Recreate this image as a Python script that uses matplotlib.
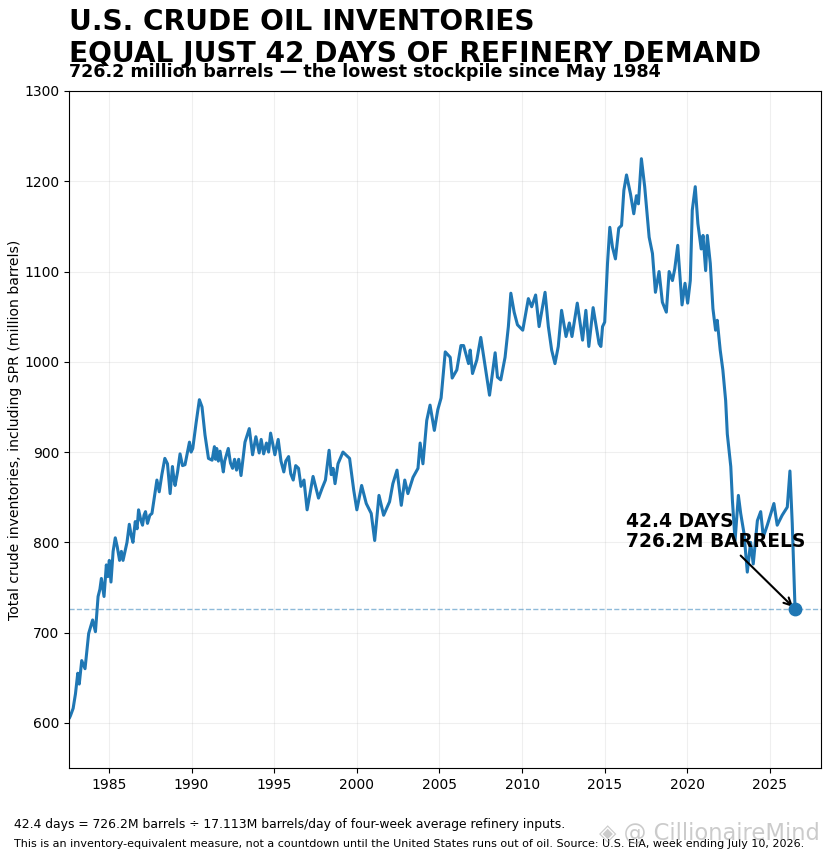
import matplotlib
matplotlib.use('Agg')
from matplotlib import pyplot as plt

# year / million barrels
years = [1982.62, 1982.67, 1982.83, 1982.97, 1983.11, 1983.2, 1983.35, 1983.55, 1983.77, 1983.91,
         1984.01, 1984.18, 1984.34, 1984.45, 1984.54, 1984.7, 1984.84, 1984.93, 1985.02, 1985.12,
         1985.25, 1985.38, 1985.5, 1985.64, 1985.75, 1985.85, 1986.09, 1986.23, 1986.34, 1986.45,
         1986.59, 1986.7, 1986.79, 1986.92, 1987.03, 1987.12, 1987.21, 1987.33, 1987.47, 1987.6,
         1987.9, 1988.04, 1988.2, 1988.38, 1988.54, 1988.7, 1988.84, 1988.93, 1989.0, 1989.15,
         1989.3, 1989.45, 1989.6, 1989.87, 1989.97, 1990.07, 1990.27, 1990.47, 1990.63, 1990.81,
         1991.02, 1991.24, 1991.38, 1991.45, 1991.52, 1991.62, 1991.72, 1991.92, 1992.0, 1992.22,
         1992.35, 1992.48, 1992.6, 1992.72, 1992.85, 1992.99, 1993.23, 1993.49, 1993.69, 1993.89,
         1994.09, 1994.21, 1994.36, 1994.53, 1994.66, 1994.78, 1995.04, 1995.24, 1995.41, 1995.58,
         1995.7, 1995.87, 1996.0, 1996.15, 1996.3, 1996.47, 1996.62, 1996.8, 1996.99, 1997.35,
         1997.68, 1997.9, 1998.1, 1998.32, 1998.45, 1998.56, 1998.68, 1998.86, 1999.16, 1999.56,
         1999.81, 2000.0, 2000.29, 2000.57, 2000.87, 2001.08, 2001.34, 2001.62, 2001.98, 2002.18,
         2002.43, 2002.69, 2002.9, 2003.09, 2003.4, 2003.7, 2003.83, 2004.0, 2004.23, 2004.43,
         2004.69, 2004.9, 2005.1, 2005.35, 2005.65, 2005.77, 2006.05, 2006.3, 2006.46, 2006.76,
         2006.86, 2007.0, 2007.26, 2007.5, 2007.77, 2008.03, 2008.37, 2008.51, 2008.71, 2008.97,
         2009.17, 2009.32, 2009.52, 2009.72, 2010.04, 2010.38, 2010.58, 2010.82, 2011.03, 2011.39,
         2011.59, 2011.79, 2011.99, 2012.19, 2012.39, 2012.66, 2012.86, 2013.02, 2013.34, 2013.66,
         2013.86, 2014.04, 2014.3, 2014.66, 2014.77, 2014.87, 2015.0, 2015.17, 2015.31, 2015.47,
         2015.65, 2015.85, 2016.02, 2016.16, 2016.32, 2016.56, 2016.76, 2016.92, 2017.04, 2017.22,
         2017.42, 2017.69, 2017.89, 2018.07, 2018.29, 2018.49, 2018.73, 2018.9, 2019.1, 2019.24,
         2019.42, 2019.68, 2019.86, 2020.02, 2020.18, 2020.3, 2020.48, 2020.64, 2020.84, 2020.95,
         2021.11, 2021.21, 2021.39, 2021.55, 2021.71, 2021.81, 2021.99, 2022.15, 2022.32, 2022.42,
         2022.63, 2022.73, 2022.89, 2023.09, 2023.23, 2023.43, 2023.63, 2023.83, 2023.99, 2024.24,
         2024.44, 2024.6, 2024.84, 2025.24, 2025.44, 2025.74, 2026.05, 2026.21, 2026.35, 2026.52]
inventories = [606, 608, 616, 632, 655, 643, 669, 660, 699, 708,
               714, 701, 740, 748, 760, 740, 775, 762, 780, 756,
               790, 805, 795, 780, 790, 780, 800, 820, 808, 800,
               823, 815, 836, 825, 819, 830, 834, 821, 830, 832,
               869, 856, 875, 893, 887, 854, 884, 870, 863, 878,
               898, 885, 886, 911, 900, 904, 932, 958, 950, 919,
               893, 891, 906, 892, 904, 890, 901, 878, 890, 904,
               888, 882, 892, 880, 892, 874, 911, 926, 897, 917,
               899, 914, 898, 910, 900, 921, 897, 914, 890, 878,
               890, 895, 876, 869, 885, 882, 862, 869, 836, 873,
               849, 860, 869, 902, 875, 882, 865, 887, 900, 893,
               858, 836, 863, 843, 832, 802, 852, 830, 845, 865,
               880, 841, 869, 854, 872, 882, 910, 887, 935, 952,
               924, 947, 960, 1011, 1005, 982, 991, 1018, 1018, 998,
               1013, 987, 1002, 1027, 994, 963, 1010, 983, 980, 1005,
               1039, 1076, 1055, 1041, 1035, 1070, 1061, 1074, 1039, 1077,
               1039, 1013, 998, 1017, 1057, 1028, 1043, 1028, 1065, 1024,
               1057, 1017, 1060, 1020, 1017, 1039, 1044, 1109, 1149, 1127,
               1114, 1148, 1151, 1190, 1207, 1186, 1164, 1184, 1175, 1225,
               1194, 1138, 1120, 1077, 1100, 1066, 1055, 1100, 1090, 1103,
               1129, 1063, 1087, 1065, 1090, 1168, 1194, 1153, 1125, 1140,
               1101, 1140, 1109, 1059, 1035, 1046, 1013, 991, 957, 920,
               884, 846, 802, 852, 832, 810, 767, 800, 776, 824,
               834, 806, 819, 843, 819, 830, 839, 879, 821, 726.2]
x_ticks = [1985, 1990, 1995, 2000, 2005, 2010, 2015, 2020, 2025]
y_ticks = [600, 700, 800, 900, 1000, 1100, 1200, 1300]

W, H = 828, 857
blue = '#1f77b4'

fig = plt.figure(figsize=(W / 100, H / 100), dpi=100)
ax = fig.add_axes([69 / W, 1 - 768 / H, (820.5 - 69) / W, (768 - 91) / H])

ax.plot(years, inventories, color=blue, linewidth=2.2)
ax.scatter(years[-1], inventories[-1], color=blue, s=80, zorder=5)
ax.axhline(inventories[-1], color=blue, linestyle='--', linewidth=1, alpha=0.5)

ax.set_xlim(1982.58, 2028.06)
ax.set_ylim(550, 1300)
ax.set_xticks(x_ticks)
ax.set_yticks(y_ticks)
ax.tick_params(labelsize=10)
ax.grid(True, alpha=0.2)
ax.set_ylabel('Total crude inventories, including SPR (million barrels)', fontsize=10.1)
ax.yaxis.set_label_coords(-47 / (820.5 - 69), 0.5)

ax.annotate('42.4 DAYS\n726.2M BARRELS', xy=(years[-1], inventories[-1]), xytext=(2016.3, 795),
            fontsize=13.45, fontweight='bold', linespacing=1.08,
            arrowprops=dict(arrowstyle='->', color='black', linewidth=1.5))

fig.text(69 / W, 1 - 62 / H, 'U.S. CRUDE OIL INVENTORIES\nEQUAL JUST 42 DAYS OF REFINERY DEMAND',
         fontsize=20.2, fontweight='bold', linespacing=1.2, va='baseline')
fig.text(69 / W, 1 - 77 / H, '726.2 million barrels — the lowest stockpile since May 1984',
         fontsize=12.65, fontweight='bold', va='baseline')
fig.text(14 / W, 1 - 828 / H, '42.4 days = 726.2M barrels ÷ 17.113M barrels/day of four-week average refinery inputs.',
         fontsize=8.9, va='baseline')
fig.text(14 / W, 1 - 847 / H, 'This is an inventory-equivalent measure, not a countdown until the United States runs out of oil. Source: U.S. EIA, week ending July 10, 2026.',
         fontsize=8.05, va='baseline')
fig.text(820 / W, 1 - 840 / H, '◈ @ CillionaireMind', fontsize=16.3, color='#999999', alpha=0.5,
         ha='right', va='baseline')

fig.savefig('out.png', dpi=100)
